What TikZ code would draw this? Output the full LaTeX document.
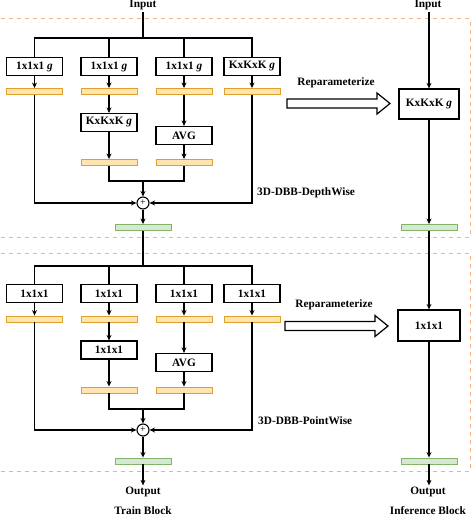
\documentclass[tikz,border=0pt]{standalone}
\usepackage{fontspec}
\setmainfont{Liberation Serif}
\usetikzlibrary{arrows.meta}
\definecolor{ofill}{HTML}{FFE4B0}
\definecolor{oline}{HTML}{E0A030}
\definecolor{gfill}{HTML}{D5E8D4}
\definecolor{gline}{HTML}{82B366}
\definecolor{dashc}{HTML}{F4B183}
\begin{document}
\begin{tikzpicture}[x=1pt,y=-1pt,
  font=\fontsize{11.3}{13}\selectfont\bfseries,
  box/.style={draw, line width=1.2pt, minimum width=56pt, minimum height=18pt, inner sep=0pt},
  bigbox/.style={draw, line width=1.2pt, minimum width=60pt, minimum height=30pt, inner sep=0pt},
  obarst/.style={draw=oline, fill=ofill, line width=0.9pt, minimum width=56pt, minimum height=6pt, inner sep=0pt},
  gbarst/.style={draw=gline, fill=gfill, line width=0.9pt, minimum width=56pt, minimum height=6pt, inner sep=0pt},
  lbl/.style={inner sep=1.5pt},
  conn/.style={line width=1.15pt},
  arr/.style={conn, -{Stealth[length=5.5pt,width=5pt]}},
  sumc/.style={circle, draw, line width=1.1pt, minimum size=12pt, inner sep=0pt, font=\fontsize{10}{10}\selectfont},
  frame/.style={draw=dashc, dash pattern=on 4pt off 4pt, line width=1pt},
  hollow/.style={draw, line width=1.2pt, fill=white}]
\useasboundingbox (0,0) rectangle (474,516);
% frames
\draw[frame] (-5,19) rectangle (470,237);
\draw[frame] (-5,253) rectangle (470,471);

% ===== Section 1 (train) =====
\node[lbl] (in1) at (143,5) {Input};
\coordinate (bus1) at (143,38);
\node[box] (b11) at (34.5,66.5) {1x1x1 \textit{g}};
\node[box] (b12) at (109,66.5) {1x1x1 \textit{g}};
\node[box] (b13) at (184,66.5) {1x1x1 \textit{g}};
\node[box] (b14) at (252,66.5) {KxKxK \textit{g}};
\node[obarst] (o11) at (34.5,91.5) {};
\node[obarst] (o12) at (109,91.5) {};
\node[obarst] (o13) at (184,91.5) {};
\node[obarst] (o14) at (252,91.5) {};
\node[box] (b22) at (109,122.5) {KxKxK \textit{g}};
\node[box] (b23) at (184,135.5) {AVG};
\node[obarst] (o22) at (109,162.5) {};
\node[obarst] (o23) at (184,162.5) {};
\coordinate (j1) at (143,181);
\node[sumc] (c1) at (143,203) {+};
\node[gbarst] (g1) at (143.5,227.5) {};
\node[inner sep=0pt, anchor=west] (dw) at (257,193) {3D-DBB-DepthWise};

\draw[conn] (in1) -- (bus1);
\draw[conn] (b11.north) -- (b11.north |- bus1) -- (b14.north |- bus1) -- (b14.north);
\draw[conn] (b12.north) -- (b12.north |- bus1);
\draw[conn] (b13.north) -- (b13.north |- bus1);
\foreach \i in {1,2,3,4}{\draw[arr] (b1\i) -- (o1\i);}
\draw[arr] (o12) -- (b22);
\draw[arr] (o13) -- (b23);
\draw[arr] (b22) -- (o22);
\draw[arr] (b23) -- (o23);
\draw[conn] (o22.south) |- (j1) -| (o23.south);
\draw[arr] (j1) -- (c1);
\draw[arr] (o11.south) |- (c1.west);
\draw[arr] (o14.south) |- (c1.east);
\draw[arr] (c1) -- (c1 |- g1.north);

% ===== Section 2 (train) =====
\coordinate (bus2) at (143,266);
\draw[conn] (g1.south -| c1) -- (bus2);
\node[box] (p11) at (34.5,293.5) {1x1x1};
\node[box] (p12) at (109,293.5) {1x1x1};
\node[box] (p13) at (184,293.5) {1x1x1};
\node[box] (p14) at (252,293.5) {1x1x1};
\node[obarst] (q11) at (34.5,319) {};
\node[obarst] (q12) at (109,319) {};
\node[obarst] (q13) at (184,319) {};
\node[obarst] (q14) at (252,319) {};
\node[box] (p22) at (109,350) {1x1x1};
\node[box] (p23) at (184,362.5) {AVG};
\node[obarst] (q22) at (109,390) {};
\node[obarst] (q23) at (184,390) {};
\coordinate (j2) at (143,409);
\node[sumc] (c2) at (143,430) {+};
\node[gbarst] (g2) at (143.5,461) {};
\node[inner sep=0pt, anchor=west] (pw) at (258,421) {3D-DBB-PointWise};
\node[lbl] (out1) at (143,492) {Output};
\node[lbl] (tb) at (143,510.5) {Train Block};

\draw[conn] (p11.north) -- (p11.north |- bus2) -- (p14.north |- bus2) -- (p14.north);
\draw[conn] (p12.north) -- (p12.north |- bus2);
\draw[conn] (p13.north) -- (p13.north |- bus2);
\foreach \i in {1,2,3,4}{\draw[arr] (p1\i) -- (q1\i);}
\draw[arr] (q12) -- (p22);
\draw[arr] (q13) -- (p23);
\draw[arr] (p22) -- (q22);
\draw[arr] (p23) -- (q23);
\draw[conn] (q22.south) |- (j2) -| (q23.south);
\draw[arr] (j2) -- (c2);
\draw[arr] (q11.south) |- (c2.west);
\draw[arr] (q14.south) |- (c2.east);
\draw[arr] (c2) -- (c2 |- g2.north);
\draw[arr] (g2.south -| c2) -- (out1);

% ===== Inference block =====
\node[lbl] (in2) at (428,5) {Input};
\node[bigbox] (rb1) at (429,104) {KxKxK \textit{g}};
\node[gbarst] (rg1) at (429,227.5) {};
\node[bigbox, minimum width=62pt, minimum height=31pt] (rb2) at (429,325.5) {1x1x1};
\node[gbarst] (rg2) at (429,461) {};
\node[lbl] (out2) at (428,492) {Output};
\node[lbl] (ib) at (428,510.5) {Inference Block};
\draw[arr] (in2.south -| rb1) -- (rb1);
\draw[arr] (rb1) -- (rg1);
\draw[arr] (rg1) -- (rb2);
\draw[arr] (rb2) -- (rg2);
\draw[arr] (rg2) -- (rg2 |- out2.north);

% Reparameterize
\node[inner sep=0pt] (rp1) at (336,83) {Reparameterize};
\node[inner sep=0pt] (rp2) at (334,305) {Reparameterize};
\draw[hollow] (287,99) -- (377,99) -- (377,93) -- (390,103.5) -- (377,114) -- (377,108) -- (287,108) -- cycle;
\draw[hollow] (285,321.5) -- (375,321.5) -- (375,315.5) -- (388,326) -- (375,336.5) -- (375,330.5) -- (285,330.5) -- cycle;
\end{tikzpicture}
\end{document}
